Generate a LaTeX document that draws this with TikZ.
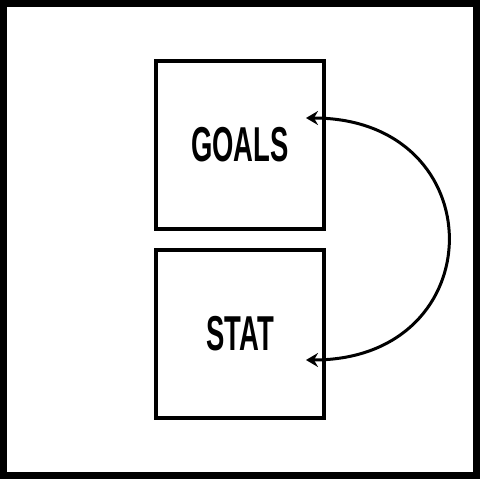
\documentclass[tikz,border=0pt]{standalone}
\usepackage{fontspec}
\newfontfamily\boxfont{Liberation Sans}[FakeStretch=0.56]
\usetikzlibrary{arrows.meta}
\tikzset{
  goalbox/.style={draw, line width=4.5pt, minimum width=168pt, minimum height=168pt,
    inner sep=0pt, font=\boxfont\bfseries\fontsize{49}{49}\selectfont},
  loopline/.style={line width=3pt, {Stealth[length=12pt,width=14pt,inset=4pt]}-{Stealth[length=12pt,width=14pt,inset=4pt]}}
}
\begin{document}
\begin{tikzpicture}[x=1pt,y=-1pt]
% \clip (0,0) rectangle (480,479);
\useasboundingbox (0,0) rectangle (480,479);

% Drawing outer frame
\draw [line width=7pt] (3.5,3.5) rectangle (476.5,475.5);%

% Drawing box goals
\node [goalbox] (goals) at (240,145) {GOALS};%

% Drawing box stat
\node [goalbox] (stat) at (240,334) {STAT};%

% Marking arrow ends
\coordinate (goalsend) at (306,118);%
\coordinate (statend) at (306,360);%

% Drawing curve goals stat
\draw [loopline] (goalsend) to [out=0, in=0, looseness=2] (statend);%
\end{tikzpicture}
\end{document}
